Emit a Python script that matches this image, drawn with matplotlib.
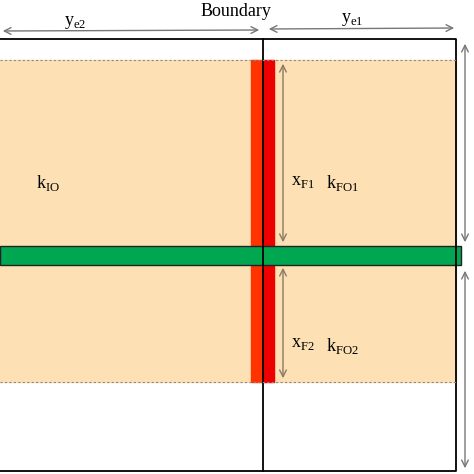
import matplotlib.pyplot as plt
from matplotlib.patches import Rectangle

# layout in pixel units of the reference
boundary_x = 263
box = (0, 39, 456, 471)          # left, top, right, bottom
tan_band = (60, 382)
green_band = (246, 265)
red_bar = (251, 274)

labels = [
    ("Boundary", 236, 11, 13, None),
    ("y$_{\\rm e2}$", 75, 22, 13, None),
    ("y$_{\\rm e1}$", 352, 19, 13, None),
    ("k$_{\\rm IO}$", 48, 183, 13, None),
    ("x$_{\\rm F1}$", 303, 181, 13, None),
    ("k$_{\\rm FO1}$", 342, 183, 13, None),
    ("x$_{\\rm F2}$", 303, 344, 13, None),
    ("k$_{\\rm FO2}$", 342, 346, 13, None),
]

plt.rcParams['font.family'] = ['Liberation Serif', 'DejaVu Serif']
plt.rcParams['mathtext.fontset'] = 'custom'
plt.rcParams['mathtext.rm'] = 'Liberation Serif'

fig = plt.figure(figsize=(4.74, 4.74), dpi=100)
ax = fig.add_axes([0, 0, 1, 1])
ax.set_xlim(0, 474)
ax.set_ylim(474, 0)
ax.axis('off')

ax.add_patch(Rectangle((0, tan_band[0]), box[2], tan_band[1] - tan_band[0], color='#fde0b4', zorder=1))
ax.add_patch(Rectangle((red_bar[0], tan_band[0]), boundary_x - red_bar[0], tan_band[1] - tan_band[0], color='#ff3300', zorder=2))
ax.add_patch(Rectangle((boundary_x, tan_band[0]), red_bar[1] - boundary_x, tan_band[1] - tan_band[0], color='#ee0000', zorder=2))
ax.add_patch(Rectangle((0, green_band[0]), 461, green_band[1] - green_band[0], facecolor='#00a650', edgecolor='#222222', lw=1, zorder=3))

# frame
ax.plot([0, box[2], box[2], 0], [box[1], box[1], box[3], box[3]], color='black', lw=1.3, zorder=4)
ax.plot([boundary_x, boundary_x], [box[1], box[3]], color='black', lw=1.3, zorder=4)
for y in tan_band:
    ax.plot([0, box[2]], [y, y], color='#888888', lw=0.8, ls=(0, (2, 2)), zorder=4)

def arrow(x0, y0, x1, y1, c='#777777'):
    ax.annotate('', xy=(x1, y1), xytext=(x0, y0),
                arrowprops=dict(arrowstyle='<->', color=c, lw=1, mutation_scale=12), zorder=5)

arrow(0, 31, 262, 30)
arrow(266, 29, 457, 28)
arrow(465, 41, 465, 245)
arrow(465, 268, 465, 471)
arrow(283, 61, 283, 245, '#8a7a66')
arrow(283, 265, 283, 381, '#8a7a66')

for text, x, y, size, _ in labels:
    ax.text(x, y, text, fontsize=size, ha='center', va='center', zorder=6)

fig.savefig('out.png', dpi=100)
